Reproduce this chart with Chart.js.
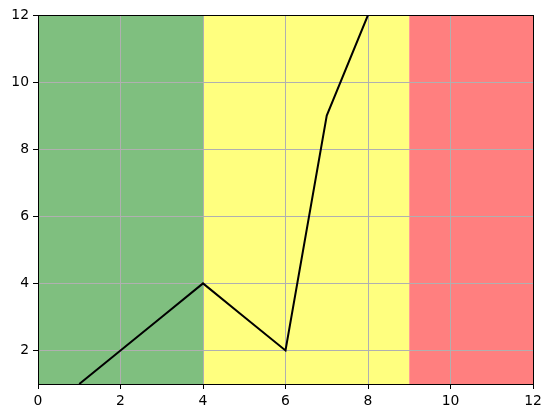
<!DOCTYPE html>
<html><head><meta charset="utf-8">
<script src="https://cdn.jsdelivr.net/npm/chart.js@4"></script>
<style>html,body{margin:0;padding:0;background:#fff}#w{width:552px;height:418px}</style>
</head><body><div id="w"><canvas id="c"></canvas></div>
<script>
const xValues = [1, 2, 3, 4, 5, 6, 7, 8];
const yValues = [1, 2, 3, 4, 3, 2, 9, 12];
const xTicks = [0, 2, 4, 6, 8, 10, 12];
const yTicks = [2, 4, 6, 8, 10, 12];
const spanStarts = [0, 4, 9];
const spanEnds = [4, 9, 12];
const spanColors = ['#7fbf7f', '#ffff7f', '#ff7f7f'];

const spans = {
  id: 'spans',
  beforeDraw(chart) {
    const {ctx, chartArea: a, scales: {x}} = chart;
    ctx.save();
    for (let i = 0; i < spanStarts.length; i++) {
      const x0 = x.getPixelForValue(spanStarts[i]);
      const x1 = x.getPixelForValue(spanEnds[i]);
      ctx.fillStyle = spanColors[i];
      ctx.fillRect(x0, a.top, x1 - x0, a.bottom - a.top);
    }
    ctx.restore();
  },
  afterDraw(chart) {
    const {ctx, chartArea: a} = chart;
    ctx.save();
    ctx.strokeStyle = '#000';
    ctx.lineWidth = 1;
    ctx.strokeRect(Math.round(a.left) + 0.5, Math.round(a.top) + 0.5, Math.round(a.right - a.left), Math.round(a.bottom - a.top));
    ctx.restore();
  }
};

const font = {family: 'DejaVu Sans', size: 13.9};
new Chart(document.getElementById('c'), {
  type: 'scatter',
  data: {
    datasets: [{
      data: xValues.map((v, i) => ({x: v, y: yValues[i]})),
      showLine: true,
      borderColor: '#000',
      borderWidth: 2,
      pointRadius: 0,
      fill: false
    }]
  },
  options: {
    responsive: true,
    maintainAspectRatio: false,
    animation: false,
    layout: {padding: {top: 15, right: 19, left: 0, bottom: 0}},
    plugins: {legend: {display: false}, tooltip: {enabled: false}},
    scales: {
      x: {
        type: 'linear', min: 0, max: 12,
        afterBuildTicks: s => { s.ticks = xTicks.map(v => ({value: v})); },
        afterFit: s => { s.height = 34; },
        grid: {color: '#b0b0b0', lineWidth: 1, tickLength: 5, tickColor: '#000', tickWidth: 1},
        border: {display: true, color: '#000', width: 1},
        ticks: {font, color: '#000', padding: 4, maxRotation: 0}
      },
      y: {
        type: 'linear', min: 1, max: 12,
        afterBuildTicks: s => { s.ticks = yTicks.map(v => ({value: v})); },
        afterFit: s => { s.width = 38; },
        grid: {color: '#b0b0b0', lineWidth: 1, tickLength: 5, tickColor: '#000', tickWidth: 1},
        border: {display: true, color: '#000', width: 1},
        ticks: {font, color: '#000', padding: 4}
      }
    }
  },
  plugins: [spans]
});
</script></body></html>
